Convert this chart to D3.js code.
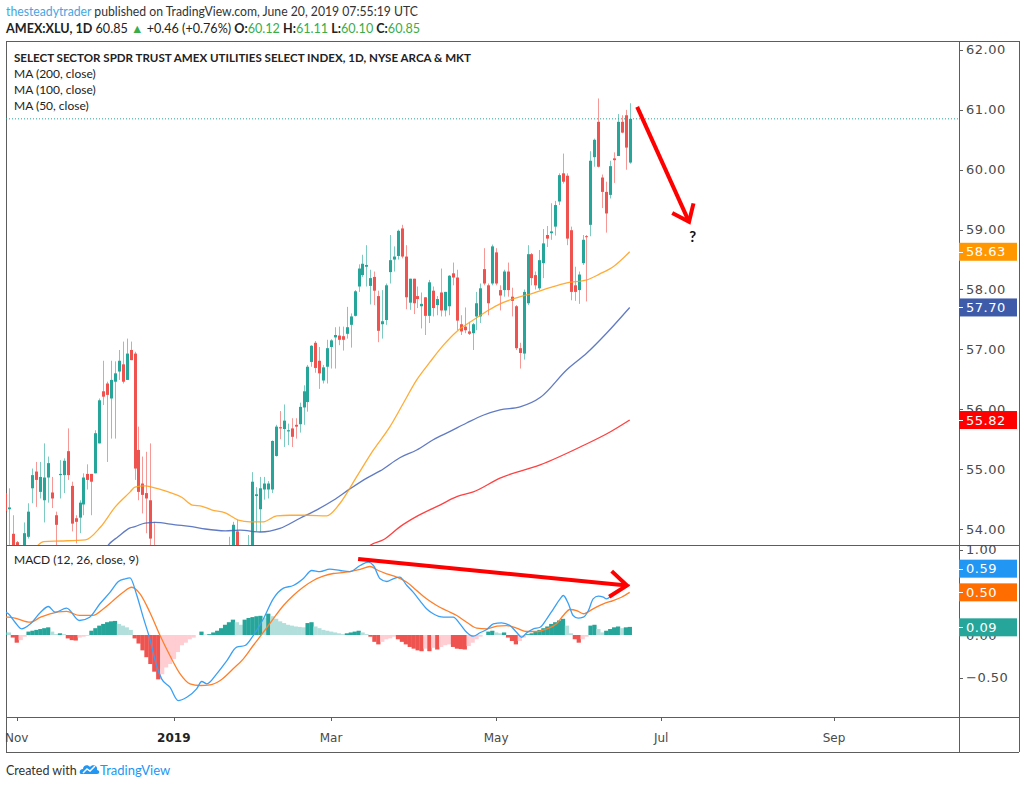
<!DOCTYPE html>
<html><head><meta charset="utf-8">
<script src="https://cdn.jsdelivr.net/npm/d3@7/dist/d3.min.js"></script>
<style>
html,body{margin:0;padding:0;background:#fff;}
svg{display:block;}
text{font-family:Lato,"Open Sans",sans-serif;}
.ax{font-family:"DejaVu Sans",Verdana,sans-serif;font-size:12px;fill:#4a4a4a;}
.pax{font-size:13px;letter-spacing:0.5px;}
</style></head><body>
<svg id="c" width="1024" height="787"></svg>
<script>
// ---------- DATA (bar index 0 = 2018-10-29, 159 = 2019-06-19) ----------
const opens=[54.60,54.33,53.92,53.78,53.50,53.65,53.87,54.68,54.96,54.62,54.48,54.86,54.61,54.23,54.90,54.90,55.30,54.72,54.18,54.19,
54.41,54.92,54.92,54.93,55.43,56.30,56.43,56.18,56.46,56.63,56.75,56.49,56.99,56.93,55.32,54.76,54.60,54.48,53.70,53.20,
52.60,52.00,53.00,52.90,53.00,52.60,52.80,52.60,52.90,53.30,53.20,53.30,53.10,53.00,53.20,53.40,53.20,53.40,53.60,53.96,
53.50,53.30,53.40,53.60,54.55,54.33,54.66,54.66,54.66,55.22,55.70,55.67,55.63,55.68,55.74,55.75,56.03,56.12,56.79,57.11,
56.81,56.48,56.71,57.04,57.20,57.23,57.22,57.26,57.41,57.56,58.05,58.24,58.38,58.06,58.21,57.89,57.42,57.49,58.29,58.50,
58.56,59.02,58.55,57.78,58.18,57.89,57.72,57.87,57.56,57.98,57.74,57.95,57.65,57.72,58.27,58.20,57.42,57.38,57.30,57.27,
57.55,57.55,58.34,58.07,58.10,58.62,57.99,57.99,58.30,57.88,57.72,57.02,56.93,57.77,58.59,58.24,58.02,58.44,58.91,58.94,
59.05,59.47,59.94,59.90,58.99,58.07,57.99,58.44,58.89,59.08,60.21,60.80,59.87,59.63,59.58,60.19,60.23,60.80,60.91,60.12];
const highs=[54.90,54.68,54.23,53.80,53.70,54.11,54.43,55.01,55.12,55.12,55.43,55.21,54.87,54.29,55.15,55.18,55.68,54.79,54.23,54.48,
54.93,55.08,54.92,55.65,56.18,56.81,56.46,56.81,56.80,56.99,57.13,57.18,57.13,56.96,55.71,55.21,55.29,55.43,54.12,53.50,
52.90,53.20,53.30,53.40,53.20,53.00,53.10,53.00,53.40,53.60,53.50,53.60,53.30,53.40,53.60,53.60,53.50,53.87,54.12,54.15,
53.65,53.60,53.90,54.95,54.70,54.87,54.87,54.80,55.48,55.74,55.97,56.08,55.76,55.85,55.85,56.11,56.40,56.74,57.07,57.14,
57.04,56.74,57.16,57.17,57.37,57.38,57.38,57.71,57.60,57.99,58.42,58.58,58.74,58.33,58.30,57.98,57.99,58.10,58.91,58.72,
59.00,59.08,58.74,58.18,58.18,58.05,57.95,57.87,58.16,58.05,57.89,58.35,57.96,58.24,58.45,58.33,57.57,57.70,57.46,57.44,
57.96,58.10,58.69,58.10,58.75,58.69,58.07,58.33,58.45,58.03,57.74,57.11,58.00,58.74,58.61,58.30,58.66,59.01,59.06,59.44,
59.48,59.94,60.27,59.94,59.05,58.38,58.30,58.91,58.91,60.31,60.52,61.19,59.92,59.80,60.15,60.29,60.93,60.91,61.00,61.11];
const lows=[54.00,53.50,53.45,53.40,53.25,53.55,53.84,54.43,54.37,54.51,54.11,54.44,54.35,53.60,54.51,54.60,54.82,53.96,53.76,53.93,
54.23,54.66,54.23,54.93,55.43,56.07,55.12,55.51,55.51,56.49,56.43,56.49,56.82,54.82,54.48,54.26,53.93,53.50,53.00,52.40,
51.80,51.90,52.50,52.60,52.30,52.30,52.40,52.40,52.80,53.00,52.90,53.00,52.70,52.80,53.00,53.10,53.00,53.20,53.50,53.40,
53.10,53.10,53.30,53.50,53.96,53.95,54.49,54.51,54.60,55.21,55.50,55.37,55.40,55.37,55.51,55.61,55.74,55.96,56.71,56.61,
56.34,56.43,56.43,56.68,56.68,57.07,56.98,57.18,57.03,57.55,57.96,58.21,58.05,57.75,57.74,57.12,57.18,57.41,58.10,58.30,
58.50,58.52,57.67,57.66,57.59,57.69,57.35,57.24,57.44,57.55,57.57,57.55,57.55,57.57,58.07,57.32,57.24,57.27,57.24,56.99,
57.32,57.44,58.07,57.57,58.07,58.07,57.65,57.88,57.88,57.55,56.99,56.68,56.83,57.74,58.07,58.00,57.99,58.19,58.71,58.83,
58.90,59.41,59.77,58.74,57.82,57.81,57.76,58.41,57.80,58.89,60.05,60.04,59.36,58.95,59.52,59.78,60.23,60.61,60.00,60.10];
const closes=[54.30,54.36,53.60,53.55,53.60,53.93,54.29,54.90,54.82,54.87,54.86,55.10,54.51,54.07,54.92,55.14,54.90,54.09,54.12,54.44,
54.86,54.82,54.79,55.60,56.15,56.21,56.24,56.49,56.60,56.81,56.46,56.93,56.82,55.01,54.62,54.57,54.51,53.84,53.20,52.60,
51.90,53.10,52.90,53.20,52.50,52.80,52.60,52.90,53.30,53.20,53.40,53.10,52.90,53.30,53.50,53.20,53.40,53.60,54.07,53.55,
53.30,53.50,53.65,54.79,54.58,54.68,54.76,54.76,55.47,55.71,55.68,55.81,55.65,55.54,55.71,56.04,56.30,56.71,57.06,56.69,
56.60,56.70,57.02,57.15,57.24,57.16,57.16,57.37,57.55,57.97,58.35,58.43,58.41,58.19,57.98,57.31,57.47,58.07,58.49,58.55,
58.98,58.55,57.87,58.18,57.77,57.84,57.76,57.56,58.12,57.69,57.84,57.65,57.96,58.23,58.20,57.48,57.30,57.32,57.26,57.42,
57.77,58.02,58.10,57.77,58.72,58.10,57.90,58.30,57.99,57.81,57.02,56.94,57.96,58.59,58.19,58.07,58.49,58.77,58.85,58.97,
59.41,59.91,59.80,58.85,57.96,57.96,58.25,58.83,58.88,60.15,60.50,60.05,59.63,59.27,60.06,60.16,60.80,60.62,60.37,60.85];

// moving averages: [bar index, value]
const ma50=[[8,53.70],[9.9,53.79],[14.2,53.80],[20.5,53.82],[24.3,54.03],[28.1,54.37],[31.9,54.62],[33.1,54.70],[35.7,54.72],[37.4,54.70],
[41.6,54.62],[45.0,54.53],[47.7,54.40],[50.2,54.38],[52.6,54.32],[56.1,54.27],[59.4,54.15],[62.4,54.12],[65.8,54.12],[69.2,54.22],
[72.6,54.23],[76.8,54.23],[81.9,54.22],[85.3,54.43],[89.5,54.87],[93.8,55.32],[98.0,55.71],[101.4,56.10],[104.8,56.49],[108.2,56.79],
[111.6,57.07],[115.0,57.30],[119.2,57.49],[123.5,57.67],[126.0,57.76],[130.2,57.86],[134.5,57.94],[138.7,58.03],[143.0,58.11],[148.1,58.16],
[151.4,58.26],[154.8,58.38],[159,58.63]];
const ma100=[[25,53.60],[26.3,53.73],[28.8,53.87],[31.9,54.02],[33.1,54.04],[35.7,54.10],[38.2,54.11],[43.4,54.07],[47.6,54.04],[51.0,54.00],
[56.1,53.97],[59.9,53.98],[65.0,53.95],[70.0,54.01],[75.1,54.18],[79.4,54.32],[83.6,54.48],[87.8,54.67],[92.1,54.85],[95.5,54.97],
[100.5,55.19],[104.8,55.32],[109.0,55.49],[113.3,55.63],[117.5,55.77],[121.7,55.90],[126.0,55.99],[131.1,56.04],[136.3,56.20],[143.0,56.66],
[148.1,56.94],[153.1,57.27],[159,57.70]];
const ma200=[[91,53.62],[93.0,53.73],[96.3,53.82],[100.6,54.04],[104.8,54.21],[110.7,54.40],[115.0,54.54],[119.2,54.62],[126.0,54.85],[136.2,55.07],
[146.4,55.37],[154.0,55.62],[159,55.82]];

// MACD (12,26,9)
const macdLine=[[0,0.27],[0.9,0.249],[2.6,0.150],[4.3,0.073],[6.5,0.131],[9.1,0.267],[11.1,0.334],[12.8,0.267],[15.7,0.314],[19.0,0.170],[21.6,0.209],
[24.2,0.366],[26.8,0.502],[28.9,0.627],[30.6,0.659],[31.85,0.670],[33.6,0.463],[35.2,0.209],[36.9,-0.045],[38.6,-0.358],[39.9,-0.514],
[42.0,-0.612],[44.1,-0.768],[46.3,-0.729],[48.8,-0.631],[50.1,-0.545],[51.4,-0.572],[53.9,-0.455],[56.5,-0.299],[59.0,-0.143],[61.1,-0.123],
[63.2,-0.006],[65.8,0.190],[68.3,0.424],[70.9,0.549],[73.4,0.580],[75.9,0.659],[78.1,0.756],[80.2,0.744],[82.7,0.772],[85.3,0.756],
[87.8,0.744],[90.4,0.815],[92.5,0.854],[93.8,0.815],[95.5,0.659],[97.2,0.627],[98.8,0.659],[100.5,0.678],[102.3,0.580],[103.9,0.502],
[105.6,0.404],[107.3,0.307],[109.0,0.249],[111.6,0.209],[114.1,0.209],[115.8,0.131],[117.5,0.033],[119.2,-0.014],[120.9,0.026],[122.6,0.064],
[124.3,0.131],[126.4,0.143],[128.5,0.111],[130.2,0.033],[131.5,-0.026],[132.8,0.026],[134.5,0.073],[136.2,0.091],[137.9,0.190],[139.6,0.307],
[141.3,0.424],[142.1,0.463],[143.4,0.366],[144.6,0.229],[145.9,0.197],[147.2,0.209],[148.5,0.287],[149.7,0.424],[151.0,0.455],[152.3,0.443],
[153.1,0.424],[154.4,0.463],[156.5,0.522],[159,0.59]];
const signalLine=[[0,0.21],[0.9,0.209],[2.6,0.197],[6.5,0.150],[9.1,0.209],[11.5,0.249],[15.7,0.276],[19.0,0.229],[22.4,0.229],[25.1,0.307],
[27.6,0.404],[30.1,0.502],[32.3,0.560],[34.4,0.483],[36.9,0.267],[39.5,-0.006],[42.0,-0.240],[44.6,-0.455],[47.1,-0.572],[49.7,-0.592],
[52.2,-0.584],[54.8,-0.533],[58.1,-0.396],[60.7,-0.279],[63.2,-0.123],[65.8,0.033],[68.3,0.190],[70.9,0.346],[73.4,0.463],[75.9,0.560],
[78.5,0.639],[81.0,0.689],[83.6,0.721],[85.3,0.729],[87.8,0.744],[90.4,0.768],[92.9,0.803],[95.0,0.756],[97.2,0.717],[99.7,0.678],
[102.3,0.619],[104.8,0.522],[107.3,0.424],[109.9,0.346],[112.4,0.287],[115.0,0.229],[117.5,0.150],[120.1,0.080],[122.6,0.073],[125.2,0.103],
[127.7,0.111],[130.2,0.080],[132.8,0.041],[135.3,0.041],[137.9,0.073],[140.4,0.131],[142.1,0.229],[143.8,0.299],[145.5,0.287],[147.2,0.249],
[149.7,0.307],[152.3,0.366],[154.8,0.404],[156.9,0.443],[159,0.50]];
const histogram=[0.03,0.03,-0.03,-0.09,-0.06,-0.02,0.04,0.05,0.06,0.07,0.08,0.09,0.04,0.01,0.02,0.01,-0.04,-0.06,-0.065,-0.03,
-0.02,-0.01,0.05,0.08,0.11,0.13,0.15,0.16,0.165,0.13,0.11,0.09,0.06,-0.04,-0.10,-0.18,-0.26,-0.34,-0.43,-0.52,
-0.46,-0.38,-0.34,-0.28,-0.20,-0.12,-0.09,-0.05,-0.03,0.00,0.04,0.005,0.01,0.03,0.05,0.08,0.12,0.15,0.18,0.15,
0.12,0.18,0.20,0.21,0.22,0.225,0.20,0.25,0.22,0.19,0.16,0.14,0.12,0.11,0.10,0.095,0.09,0.14,0.15,0.10,
0.08,0.06,0.05,0.04,0.03,0.02,0.01,0.02,0.03,0.04,0.05,0.03,0.01,-0.02,-0.08,-0.11,-0.08,-0.05,-0.04,-0.02,
-0.05,-0.08,-0.11,-0.14,-0.16,-0.18,-0.19,-0.16,-0.19,-0.15,-0.17,-0.14,-0.12,-0.11,-0.14,-0.16,-0.165,-0.17,-0.13,-0.09,
-0.05,-0.02,0.00,0.04,0.05,0.03,0.02,0.03,-0.03,-0.07,-0.11,-0.07,-0.03,0.01,0.02,0.04,0.06,0.08,0.10,0.13,
0.15,0.17,0.19,0.11,0.02,-0.05,-0.09,-0.05,-0.02,0.11,0.12,0.07,0.03,0.05,0.07,0.09,0.10,0.08,0.09,0.095];

// axes
const priceTicks=[54,55,56,57,58,59,60,61,62];
const macdTicks=[1.0,0.5,0.0,-0.5];
const timeTickIdx=[3,43,83,125,167,211];
const timeTickLabels=["Nov","2019","Mar","May","Jul","Sep"];
const lastValues={ma50:58.63,ma100:57.70,ma200:55.82,macd:0.59,signal:0.50,hist:0.09,close:60.85};
// annotations [bar index, value]
const arrowMain=[[160.9,61.05],[174.1,59.13]];
const questionMark=[175.0,58.80];
const arrowMacd=[[89.9,0.89],[158.3,0.58]];

// ---------- LAYOUT ----------
const svg=d3.select("#c");
const L=6,R=959,T=41,MB=545,PB=717,AB=752,AX=1019;
const step=3.93,lastX=629.7;
const x=d3.scaleLinear().domain([0,159]).range([lastX-159*step,lastX]);
const y=d3.scaleLinear().domain([53.733,62.150]).range([MB,T]);
const ym=d3.scaleLinear().domain([-0.961,1.055]).range([PB,MB]);
const UP="#26a69a",DN="#ef5350";

const defs=svg.append("defs");
defs.append("clipPath").attr("id","cm").append("rect").attr("x",L).attr("y",T).attr("width",R-L).attr("height",MB-T);
defs.append("clipPath").attr("id","cd").append("rect").attr("x",L).attr("y",MB).attr("width",R-L).attr("height",PB-MB);

// header
const h1=svg.append("text").attr("x",6).attr("y",16).attr("font-size",13).attr("fill","#333").attr("textLength",412).attr("lengthAdjust","spacingAndGlyphs");
h1.append("tspan").attr("fill","#45a6e2").text("thesteadytrader");
h1.append("tspan").text(" published on TradingView.com, June 20, 2019 07:55:19 UTC");
const GR="#3aad4a";
const h2=svg.append("text").attr("x",6).attr("y",33).attr("font-size",12.6).attr("fill","#222");
h2.append("tspan").attr("font-weight","bold").text("AMEX:XLU, 1D");
h2.append("tspan").text("  60.85 ");
h2.append("tspan").attr("fill",GR).text("▲");
h2.append("tspan").text(" +0.46 (+0.76%) ");
[["O:","60.12"],["H:","61.11"],["L:","60.10"],["C:","60.85"]].forEach((p,k)=>{
  h2.append("tspan").attr("font-weight","bold").text((k?" ":"")+p[0]);
  h2.append("tspan").attr("fill",GR).text(p[1]);
});

// frame
const fr=svg.append("g").attr("stroke","#5d5d5d").attr("stroke-width",1).attr("fill","none");
fr.append("line").attr("x1",L).attr("x2",AX).attr("y1",T+0.5).attr("y2",T+0.5);
fr.append("line").attr("x1",L+0.5).attr("x2",L+0.5).attr("y1",T).attr("y2",AB);
fr.append("line").attr("x1",R+0.5).attr("x2",R+0.5).attr("y1",T).attr("y2",AB);
fr.append("line").attr("x1",L).attr("x2",AX).attr("y1",MB+0.5).attr("y2",MB+0.5);
fr.append("line").attr("x1",L).attr("x2",AX).attr("y1",PB+0.5).attr("y2",PB+0.5);
fr.append("line").attr("x1",L).attr("x2",AX).attr("y1",AB+0.5).attr("y2",AB+0.5);
fr.append("line").attr("x1",AX+0.5).attr("x2",AX+0.5).attr("y1",T).attr("y2",AB);

// last price dotted line
svg.append("line").attr("x1",L).attr("x2",R).attr("y1",y(lastValues.close)).attr("y2",y(lastValues.close))
  .attr("stroke","#26a69a").attr("stroke-dasharray","1,2").attr("stroke-width",1);

// candles
const gm=svg.append("g").attr("clip-path","url(#cm)");
const bars=d3.range(opens.length).map(i=>({i,o:opens[i],h:highs[i],l:lows[i],c:closes[i]}));
gm.selectAll("line.w").data(bars).join("line")
  .attr("x1",d=>Math.round(x(d.i))+0.5).attr("x2",d=>Math.round(x(d.i))+0.5)
  .attr("y1",d=>y(d.h)).attr("y2",d=>y(d.l))
  .attr("stroke",d=>d.c>=d.o?UP:DN).attr("stroke-opacity",0.6).attr("stroke-width",1);
gm.selectAll("rect.b").data(bars).join("rect")
  .attr("x",d=>Math.round(x(d.i))-1).attr("width",3)
  .attr("y",d=>y(Math.max(d.o,d.c))).attr("height",d=>Math.max(1,y(Math.min(d.o,d.c))-y(Math.max(d.o,d.c))))
  .attr("fill",d=>d.c>=d.o?UP:DN);

// moving averages
const lineP=d3.line().x(d=>x(d[0])).y(d=>y(d[1])).curve(d3.curveMonotoneX);
[[ma200,"#ff1e1e"],[ma100,"#4463b8"],[ma50,"#ff9d14"]].forEach(([d,c])=>{
  gm.append("path").attr("d",lineP(d)).attr("fill","none").attr("stroke",c).attr("stroke-width",1.3).attr("stroke-opacity",0.85);
});

// legend texts
svg.append("text").attr("x",14).attr("y",62).attr("font-size",12).attr("font-weight","bold").attr("fill","#222")
  .attr("textLength",457).attr("lengthAdjust","spacingAndGlyphs")
  .text("SELECT SECTOR SPDR TRUST AMEX UTILITIES SELECT INDEX, 1D, NYSE ARCA & MKT");
["MA (200, close)","MA (100, close)","MA (50, close)"].forEach((t,k)=>{
  svg.append("text").attr("x",14).attr("y",78+k*16).attr("font-size",12).attr("fill","#222").text(t);
});
svg.append("text").attr("x",14).attr("y",564).attr("font-size",12).attr("fill","#222").text("MACD (12, 26, close, 9)");

// price axis
const pa=svg.append("g");
priceTicks.forEach(v=>{
  pa.append("line").attr("x1",R).attr("x2",R+4).attr("y1",Math.round(y(v))+0.5).attr("y2",Math.round(y(v))+0.5).attr("stroke","#5d5d5d");
  pa.append("text").attr("class","ax pax").attr("x",966).attr("y",y(v)+4.5).text(v.toFixed(2));
});
macdTicks.forEach(v=>{
  pa.append("line").attr("x1",R).attr("x2",R+4).attr("y1",Math.round(ym(v))+0.5).attr("y2",Math.round(ym(v))+0.5).attr("stroke","#5d5d5d");
  pa.append("text").attr("class","ax pax").attr("x",966).attr("y",ym(v)+4.5).text(v<0?"\u2212"+Math.abs(v).toFixed(2):v.toFixed(2));
});

// MACD pane
const gd=svg.append("g").attr("clip-path","url(#cd)");
const hw=step;
gd.selectAll("rect.h").data(histogram.map((v,i)=>({i,v,p:i?histogram[i-1]:0}))).join("rect")
  .attr("x",d=>x(d.i)-hw/2).attr("width",hw+0.3)
  .attr("y",d=>Math.min(ym(d.v),ym(0))).attr("height",d=>Math.abs(ym(d.v)-ym(0)))
  .attr("fill",d=>d.v>=0?(d.v>d.p?"#26a69a":"#b2dfdb"):(d.v<d.p?"#ef5350":"#ffcdd2"));
const lineM=d3.line().x(d=>x(d[0])).y(d=>ym(d[1])).curve(d3.curveMonotoneX);
gd.append("path").attr("d",lineM(signalLine)).attr("fill","none").attr("stroke","#ff7f2a").attr("stroke-width",1.3);
gd.append("path").attr("d",lineM(macdLine)).attr("fill","none").attr("stroke","#3aa0f5").attr("stroke-width",1.3);

// value boxes on price axis
function box(cy,txt,col){
  svg.append("rect").attr("x",R).attr("y",cy-9).attr("width",AX-R-2).attr("height",18).attr("fill",col);
  svg.append("line").attr("x1",R).attr("x2",R+4).attr("y1",Math.round(cy)+0.5).attr("y2",Math.round(cy)+0.5).attr("stroke","#fff");
  svg.append("text").attr("class","ax pax").attr("x",966).attr("y",cy+4.5).style("fill","#fff").text(txt);
}
box(y(lastValues.ma50),lastValues.ma50.toFixed(2),"#ff9800");
box(y(lastValues.ma100),lastValues.ma100.toFixed(2),"#3e5ba9");
box(y(lastValues.ma200),lastValues.ma200.toFixed(2),"#ff0000");
box(ym(lastValues.macd)-16,lastValues.macd.toFixed(2),"#2196f3");
box(ym(lastValues.signal),lastValues.signal.toFixed(2),"#ff6d00");
box(ym(lastValues.hist),lastValues.hist.toFixed(2),"#26a69a");

// time axis
timeTickIdx.forEach((t,k)=>{
  const xx=Math.round(x(t))+0.5;
  svg.append("line").attr("x1",xx).attr("x2",xx).attr("y1",PB).attr("y2",PB+4).attr("stroke","#5d5d5d");
  svg.append("text").attr("class","ax").attr("x",x(t)).attr("y",742).attr("text-anchor","middle")
    .attr("font-weight",timeTickLabels[k]==="2019"?"bold":null).style("fill",timeTickLabels[k]==="2019"?"#222":null).text(timeTickLabels[k]);
});

// annotations (red arrows)
function arrow(p0,p1,sx,sy,len){
  const a=[sx(p0[0]),sy(p0[1])],b=[sx(p1[0]),sy(p1[1])];
  const ang=Math.atan2(a[1]-b[1],a[0]-b[0]),s=0.66;
  const g=svg.append("g").attr("stroke","#ff0000").attr("stroke-width",4).attr("stroke-linecap","butt").attr("fill","none");
  g.append("line").attr("x1",a[0]).attr("y1",a[1]).attr("x2",b[0]).attr("y2",b[1]);
  g.append("path").attr("d",`M${b[0]+len*Math.cos(ang+s)},${b[1]+len*Math.sin(ang+s)}L${b[0]},${b[1]}L${b[0]+len*Math.cos(ang-s)},${b[1]+len*Math.sin(ang-s)}`);
}
arrow(arrowMain[0],arrowMain[1],x,y,19);
arrow(arrowMacd[0],arrowMacd[1],x,ym,21);
svg.append("text").attr("x",x(questionMark[0])).attr("y",y(questionMark[1])).attr("text-anchor","middle")
  .attr("font-size",15).attr("font-weight","bold").attr("fill","#111").text("?");

// footer
svg.append("text").attr("x",6).attr("y",775).attr("font-size",12.5).attr("fill","#333").text("Created with");
const lg=svg.append("g").attr("transform","translate(79,762)");
lg.append("path").attr("d","M2,12 C0,12 0,7 4,7 C4,3 9,2 11,5 C13,2 19,3 18,8 C21,8 21,12 18,12 Z").attr("fill","#2196f3");
lg.append("path").attr("d","M4,11 L8,7 L11,9 L16,4").attr("stroke","#fff").attr("stroke-width",1.4).attr("fill","none");
svg.append("text").attr("x",100).attr("y",775).attr("font-size",13).attr("fill","#2196f3").text("TradingView");
</script>
</body></html>
